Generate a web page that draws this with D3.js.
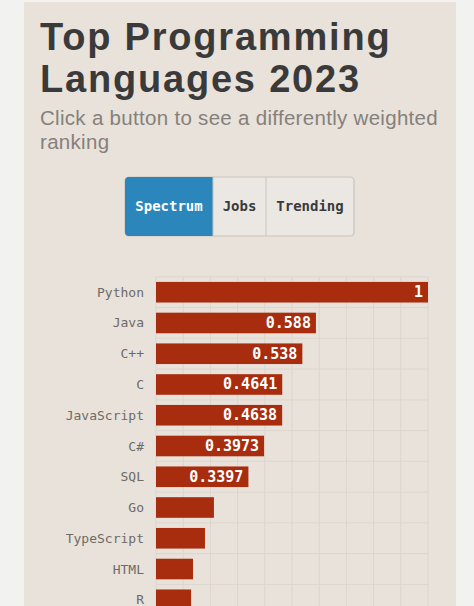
<!DOCTYPE html>
<html><head><meta charset="utf-8">
<script src="https://cdn.jsdelivr.net/npm/d3@7"></script>
<style>body{margin:0;background:#f2f2f1;overflow:hidden}</style>
</head><body>
<svg id="chart" width="474" height="606"></svg>
<script>
var languages = ['Python','Java','C++','C','JavaScript','C#','SQL','Go','TypeScript','HTML','R'];
var scores = [1, 0.588, 0.538, 0.4641, 0.4638, 0.3973, 0.3397, 0.213, 0.18, 0.136, 0.129];
var valueLabels = ['1','0.588','0.538','0.4641','0.4638','0.3973','0.3397','','','',''];
var buttons = ['Spectrum','Jobs','Trending'];
var buttonEdges = [125, 213, 266, 354];

var svg = d3.select('#chart');
var mono = 'DejaVu Sans Mono, monospace';
var sans = 'Liberation Sans, Arial';

// beige panel
svg.append('rect').attr('x',24).attr('y',2).attr('width',432).attr('height',610).attr('fill','#e8e2da');

svg.append('text').attr('x',40).attr('y',50).attr('font-family',sans).attr('font-weight','bold')
  .attr('font-size',38).attr('letter-spacing',1.8).attr('fill','#3a3a3a').text('Top Programming');
svg.append('text').attr('x',40).attr('y',92).attr('font-family',sans).attr('font-weight','bold')
  .attr('font-size',38).attr('letter-spacing',1.8).attr('fill','#3a3a3a').text('Languages 2023');
svg.append('text').attr('x',40).attr('y',125).attr('font-family',sans)
  .attr('font-size',20.5).attr('letter-spacing',0.3).attr('fill','#85807c').text('Click a button to see a differently weighted');
svg.append('text').attr('x',40).attr('y',149).attr('font-family',sans)
  .attr('font-size',20.5).attr('letter-spacing',0.3).attr('fill','#85807c').text('ranking');

// buttons
var bg = svg.append('g');
bg.append('rect').attr('x',125).attr('y',177).attr('width',229).attr('height',59).attr('rx',4)
  .attr('fill','#ebe7e2').attr('stroke','#c9c4be').attr('stroke-width',1.2);
buttons.forEach(function(b,i){
  var x0 = buttonEdges[i], x1 = buttonEdges[i+1];
  if(i===0) bg.append('path').attr('d','M'+(x0+4)+',177H'+x1+'V236H'+(x0+4)+'a4,4 0 0 1 -4,-4V181a4,4 0 0 1 4,-4z').attr('fill','#2a86bb');
  else bg.append('line').attr('x1',x0).attr('x2',x0).attr('y1',177).attr('y2',236).attr('stroke','#c9c4be');
  bg.append('text').attr('x',(x0+x1)/2).attr('y',211).attr('text-anchor','middle')
    .attr('font-family',mono).attr('font-weight','bold').attr('font-size',14)
    .attr('fill',i===0?'#fff':'#3a3a3a').text(b);
});

// chart
var x = d3.scaleLinear().domain([0,1]).range([156,428]);
var y = d3.scaleBand().domain(languages).range([277,615]).paddingInner(0.33).paddingOuter(0.16);

var grid = svg.append('g').attr('stroke','#ddd6ce').attr('stroke-width',1);
grid.selectAll('line.v').data(d3.range(0,1.01,0.1)).join('line').attr('class','v')
  .attr('x1',d=>x(d)).attr('x2',d=>x(d)).attr('y1',277).attr('y2',606);
grid.selectAll('line.h').data(languages).join('line').attr('class','h')
  .attr('x1',156).attr('x2',428)
  .attr('y1',d=>y(d)-y.step()*y.paddingInner()/2).attr('y2',d=>y(d)-y.step()*y.paddingInner()/2);

svg.selectAll('rect.bar').data(languages).join('rect').attr('class','bar')
  .attr('x',x(0)).attr('y',d=>y(d)).attr('height',y.bandwidth())
  .attr('width',(d,i)=>x(scores[i])-x(0)).attr('fill','#a82c0e');

svg.selectAll('text.val').data(languages).join('text').attr('class','val')
  .attr('x',(d,i)=>x(scores[i])-5).attr('y',d=>y(d)+y.bandwidth()/2+5)
  .attr('text-anchor','end').attr('font-family',mono).attr('font-weight','bold').attr('font-size',15)
  .attr('fill','#fff').text((d,i)=>valueLabels[i]);

svg.selectAll('text.lab').data(languages).join('text').attr('class','lab')
  .attr('x',144).attr('y',d=>y(d)+y.bandwidth()/2+4.5)
  .attr('text-anchor','end').attr('font-family',mono).attr('font-size',13)
  .attr('fill','#6e6a66').text(d=>d);

svg.append('rect').attr('x',456).attr('y',0).attr('width',18).attr('height',606).attr('fill','#f2f2f1');
</script>
</body></html>
